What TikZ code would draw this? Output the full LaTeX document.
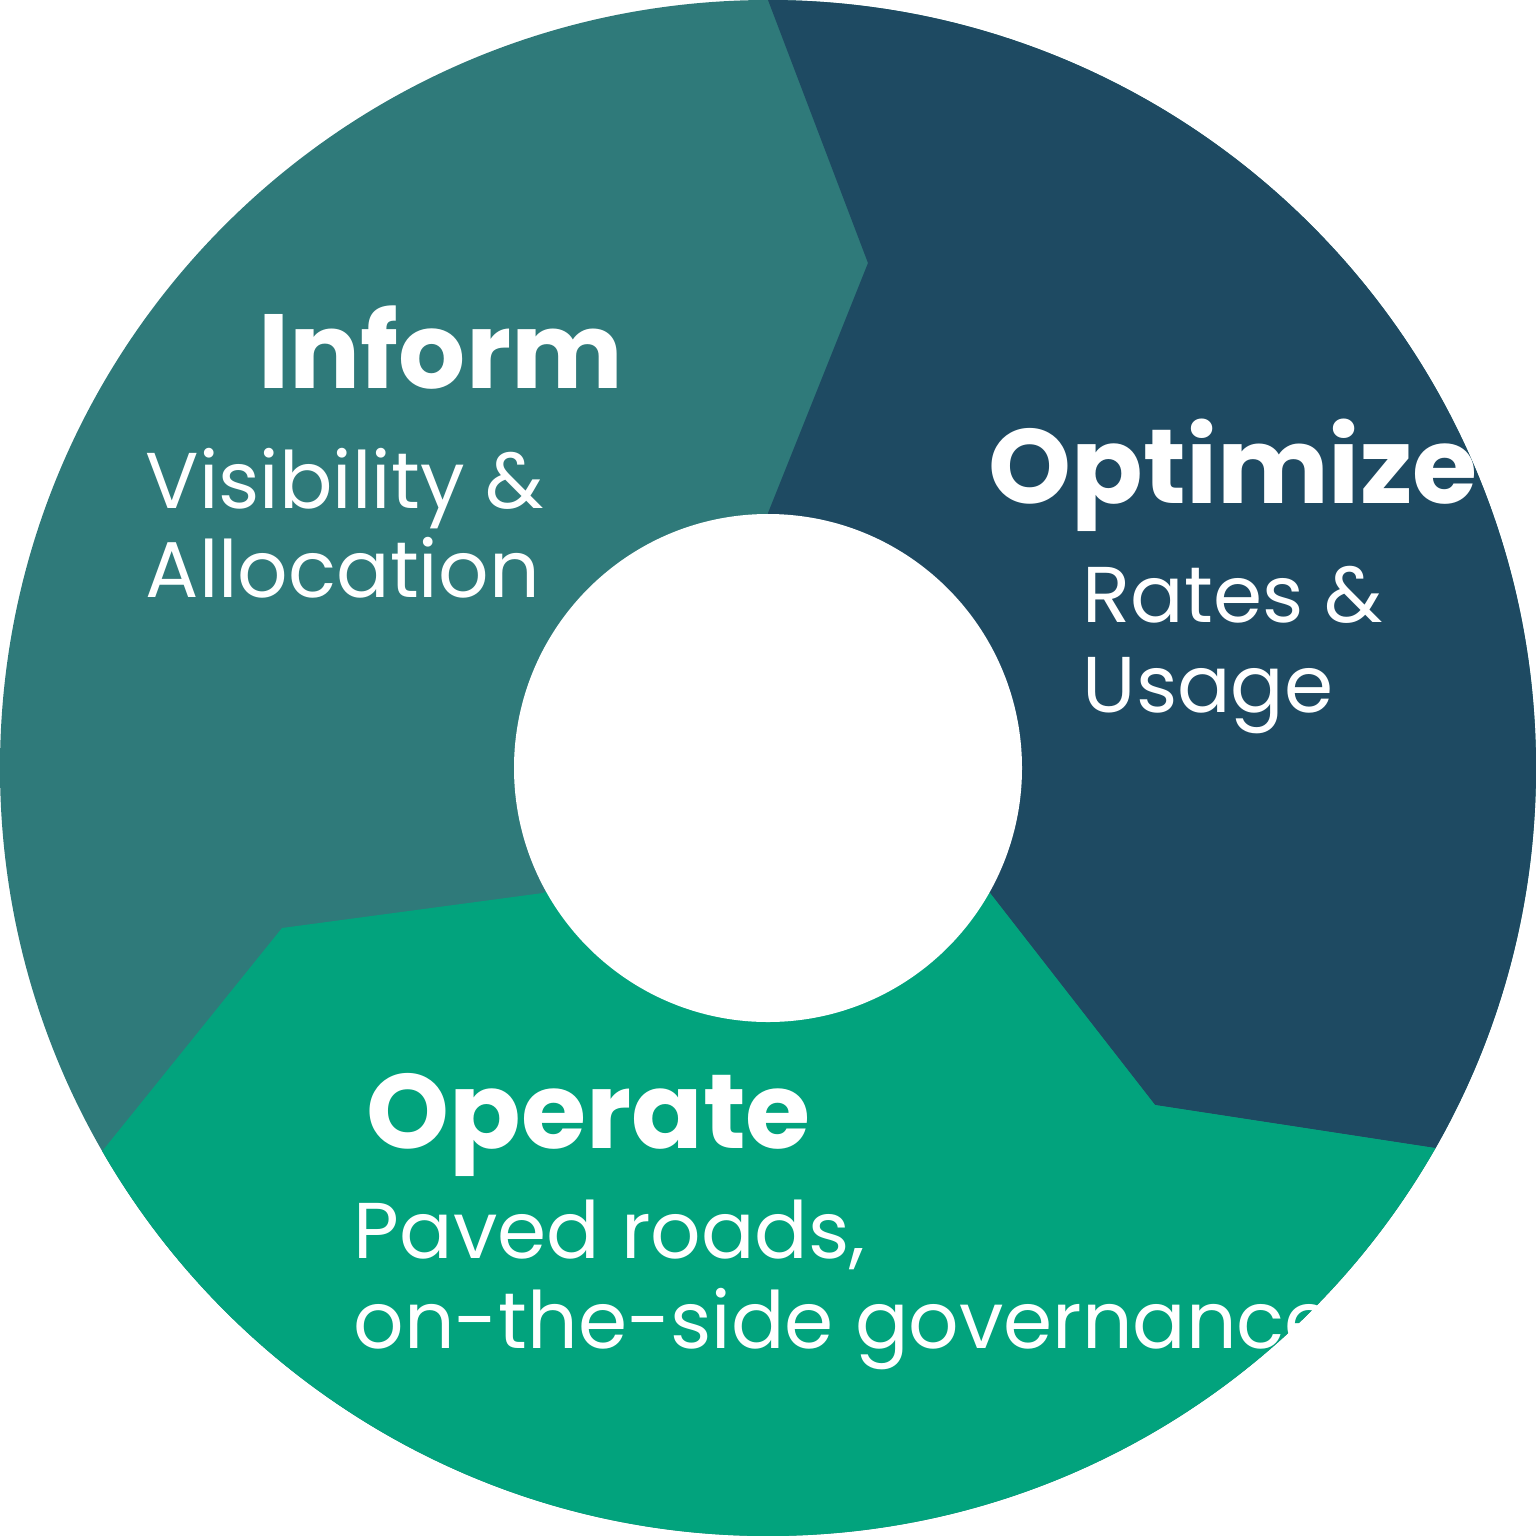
\documentclass[tikz,border=0pt]{standalone}
\usepackage{fontspec}
\setmainfont{Poppins}
\definecolor{cinf}{HTML}{2F7A7A}
\definecolor{copt}{HTML}{1E4A62}
\definecolor{cope}{HTML}{02A37D}
\begin{document}
\begin{tikzpicture}[x=0.01cm,y=-0.01cm,
  head/.style={text=white,anchor=base west,inner sep=0pt,font=\fontsize{30}{36}\selectfont\bfseries},
  sub/.style={text=white,anchor=base west,inner sep=0pt,font=\fontsize{22.5}{27}\selectfont}]
\useasboundingbox (0,0) rectangle (1536,1536);
\begin{scope}
\clip (768,768) circle (768);
\fill[cinf] (0,0) rectangle (1536,1536);
\fill[copt] (768,-100) -- (768,0) -- (868,263) -- (768,513) -- (768,768) -- (990,893) -- (1155,1105) -- (1435,1148) -- (1700,1188) -- (1700,-100) -- cycle;
\fill[cope] (768,768) -- (990,893) -- (1155,1105) -- (1435,1148) -- (1700,1188) -- (1700,1700) -- (-100,1700) -- (0,1278) -- (282,928) -- (543,893) -- cycle;
\end{scope}
\fill[white] (768,768) circle (254);
\node[head] (inf) at (258,388) {Inform};
\node[sub] (inf1) at (145,508) {Visibility \&};
\node[sub] (inf2) at (145,597) {Allocation};
\node[head] (opt) at (988,503) {Optimize};
\node[sub] (opt1) at (1082,622) {Rates \&};
\node[sub] (opt2) at (1082,712) {Usage};
\node[head] (ope) at (366,1148) {Operate};
\node[sub] (ope1) at (353,1258) {Paved roads,};
\node[sub] (ope2) at (353,1348) {on-the-side governance};
\end{tikzpicture}
\end{document}
